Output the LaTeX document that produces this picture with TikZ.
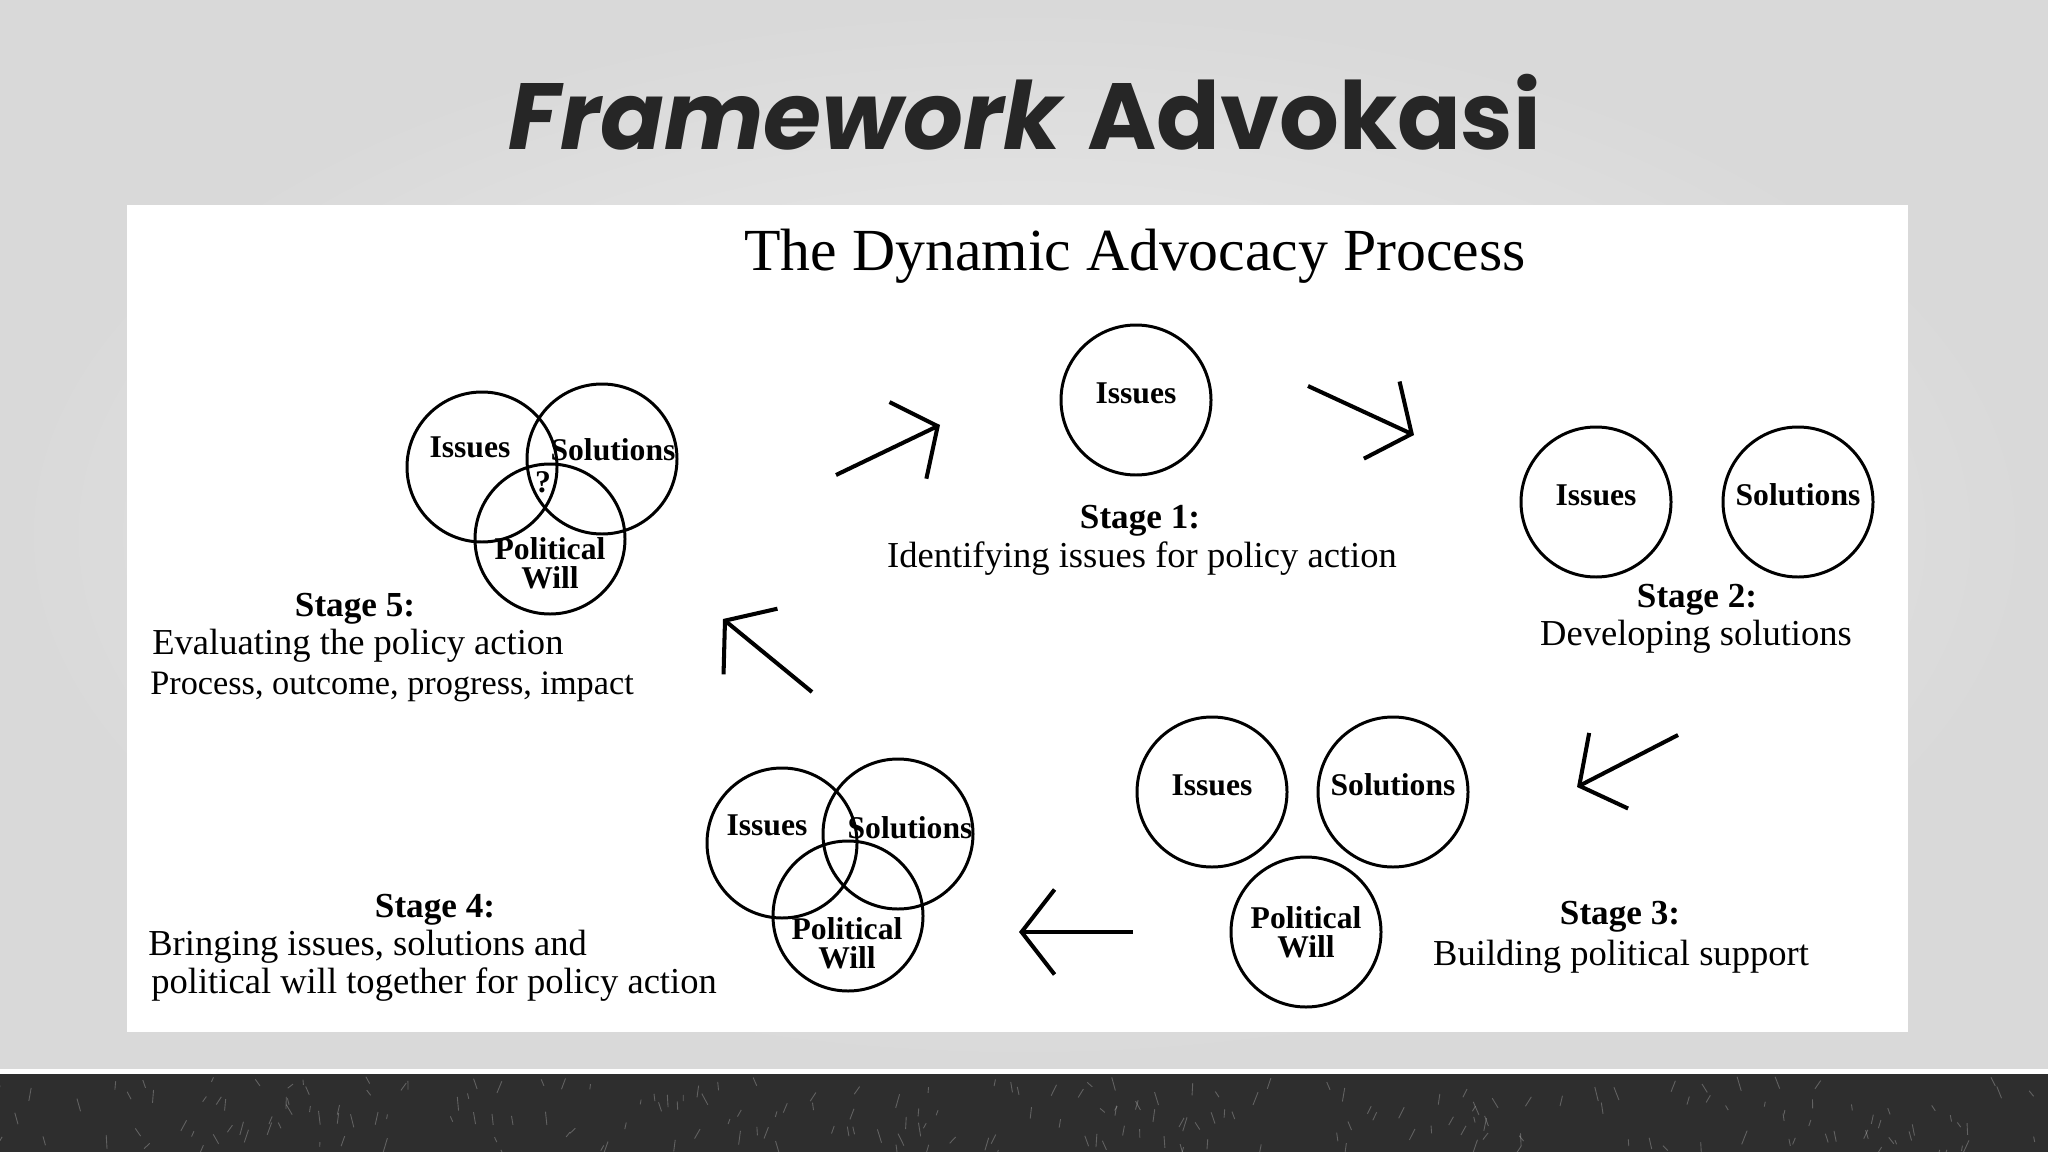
\documentclass[tikz,border=0pt]{standalone}
\usepackage{fontspec}
\setmainfont{Liberation Serif}
\newfontfamily\titlefont{Poppins}
\usetikzlibrary{arrows.meta}

\begin{document}
\begin{tikzpicture}[x=0.2mm, y=-0.2mm]
% Define the styles
\tikzstyle{venn} = [draw, circle, minimum size=30mm, inner sep=0pt, line width=1.7pt, align=center, font=\fontsize{18}{16.5}\selectfont\bfseries]
\tikzstyle{vone} = [venn, text depth=8pt]
\tikzstyle{vlabel} = [inner sep=0pt, align=center, font=\fontsize{18}{16.5}\selectfont\bfseries]
\tikzstyle{stagehead} = [inner sep=0pt, anchor=base, font=\fontsize{20}{24}\selectfont\bfseries]
\tikzstyle{stagetext} = [inner sep=0pt, anchor=base, font=\fontsize{20.8}{24}\selectfont]
\tikzstyle{cyc} = [line width=2.3pt, -{Straight Barb[length=6.6mm, width=17mm]}]

\useasboundingbox (0,0) rectangle (2048,1152);

% Background
\shade[inner color=gray!12, outer color=gray!30] (0,0) rectangle (2048,1069);
\fill[white] (0,1069) rectangle (2048,1074);
\fill[black!82] (0,1074) rectangle (2048,1152);
\pgfmathsetseed{7}
\foreach \k in {1,...,220}
  \draw[white, opacity=0.25, line width=0.5pt] ({2048*rnd},{1076+74*rnd}) -- ++({-6+12*rnd},{4+10*rnd});
\fill[white] (127,205) rectangle (1908,1032);

% Titles
\node[anchor=base, inner sep=0pt, text=black!85, font=\titlefont\fontsize{53.5}{60}\selectfont\bfseries] (title) at (1025,150) {\itshape Framework\/ \upshape Advokasi};
\node[anchor=base, inner sep=0pt, font=\fontsize{34}{36}\selectfont] (head) at (1135,271) {The Dynamic Advocacy Process};

% Stage 1
\node[vone] (I1) at (1136,400) {Issues};
\node[stagehead] (H1) at (1140,528) {Stage 1:};
\node[stagetext] (D1) at (1142,567) {Identifying issues for policy action};

% Stage 2
\node[vone] (I2) at (1596,502) {Issues};
\node[vone] (S2) at (1798,502) {Solutions};
\node[stagehead] (H2) at (1697,607) {Stage 2:};
\node[stagetext] (D2) at (1696,645) {Developing solutions};

% Stage 3
\node[vone] (I3) at (1212,792) {Issues};
\node[vone] (S3) at (1393,792) {Solutions};
\node[venn] (P3) at (1306,932) {Political\\Will};
\node[stagehead] (H3) at (1620,924) {Stage 3:};
\node[stagetext] (D3) at (1621,965) {Building political support};

% Stage 4
\node[venn] (I4) at (782,843) {};
\node[venn] (S4) at (898,834) {};
\node[venn] (P4) at (848,916) {};
\node[vlabel] at (767,825) {Issues};
\node[vlabel] at (910,828) {Solutions};
\node[vlabel] at (847,943) {Political\\Will};
\node[stagehead] (H4) at (435,917) {Stage 4:};
\node[stagetext, anchor=base west] (D4) at (148,955) {Bringing issues, solutions and};
\node[stagetext, anchor=base west] (E4) at (151,993) {political will together for policy action};

% Stage 5
\node[venn] (I5) at (482,467) {};
\node[venn] (S5) at (602,459) {};
\node[venn] (P5) at (550,539) {};
\node[vlabel] at (470,447) {Issues};
\node[vlabel] at (613,450) {Solutions};
\node[vlabel] at (543,482) {?};
\node[vlabel] at (550,563) {Political\\Will};
\node[stagehead] (H5) at (355,616) {Stage 5:};
\node[stagetext, anchor=base west] (D5) at (152,654) {Evaluating the policy action};
\node[stagetext, anchor=base west, font=\fontsize{19.5}{24}\selectfont] (E5) at (150,694) {Process, outcome, progress, impact};

% Define the cycle arrows
\coordinate (T1) at (836,475);  \coordinate (A1) at (940,425);
\coordinate (T2) at (1308,386); \coordinate (A2) at (1414,435);
\coordinate (T3) at (1678,735); \coordinate (A3) at (1577,787);
\coordinate (T4) at (1133,932); \coordinate (A4) at (1019,932);
\coordinate (T5) at (812,692);  \coordinate (A5) at (723,619);

\draw[cyc] (T1) -- (A1);
\draw[cyc] (T2) -- (A2);
\draw[cyc] (T3) -- (A3);
\draw[cyc] (T4) -- (A4);
\draw[cyc] (T5) -- (A5);

\end{tikzpicture}
\end{document}
